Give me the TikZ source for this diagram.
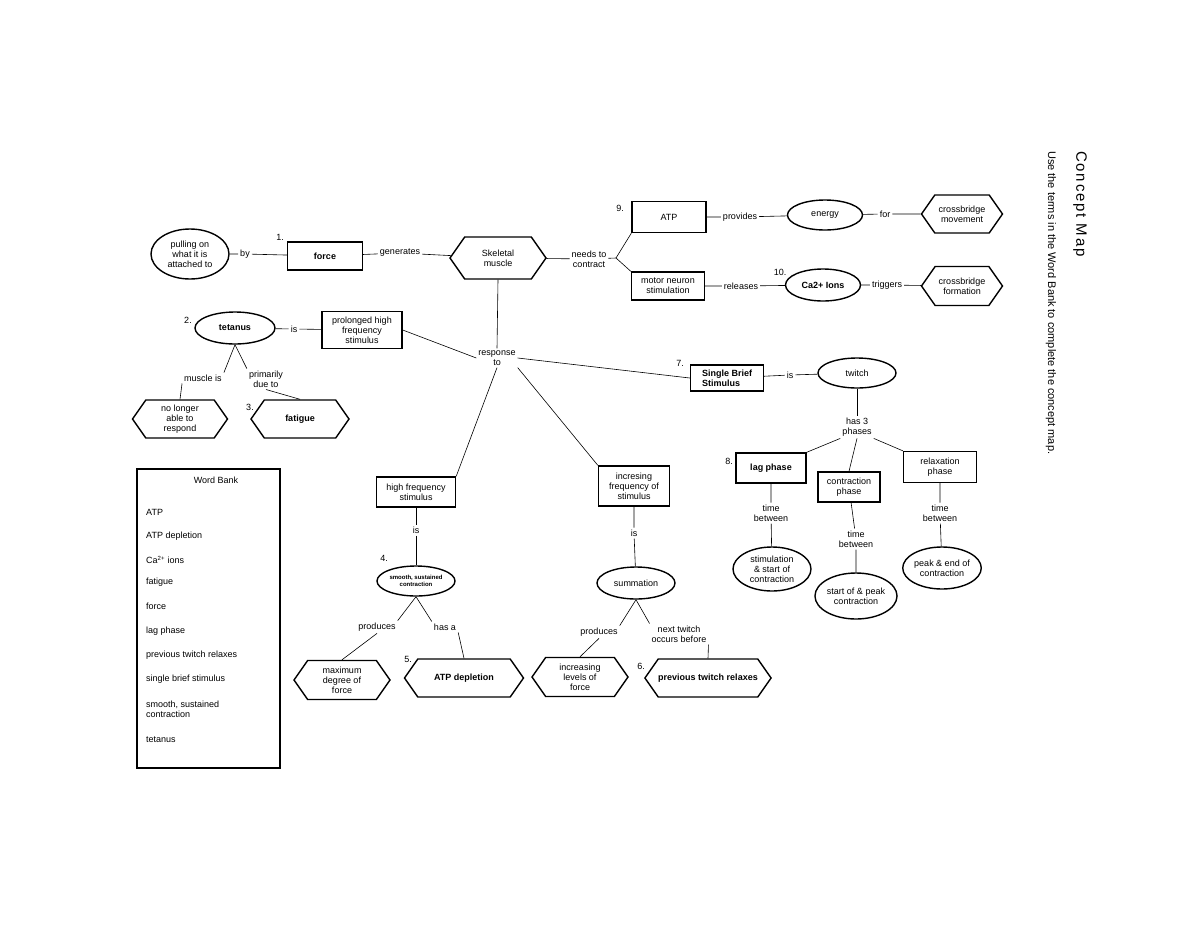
\documentclass[tikz,border=0pt]{standalone}
\usepackage{fontspec}
\setmainfont{Liberation Sans}
\usetikzlibrary{shapes.geometric,shapes.symbols}
\begin{document}
\begin{tikzpicture}[x=1pt,y=-1pt,
  every node/.style={font=\fontsize{9}{10}\selectfont,align=center,inner sep=1pt},
  box/.style={draw,line width=1.4pt,minimum width=#1,minimum height=28pt,inner sep=2pt},
  ell/.style={draw,ellipse,line width=1.4pt,minimum width=#1,minimum height=31pt,inner sep=0pt},
  hex/.style={draw,signal,signal to=west and east,signal pointer angle=110,line width=1.4pt,minimum width=#1,minimum height=38pt,inner sep=0pt},
  lab/.style={fill=white,inner sep=2pt},
  num/.style={font=\fontsize{9}{10}\selectfont},
  ln/.style={line width=0.6pt}]
\useasboundingbox (0,0) rectangle (1200,927);
% nodes
\node[ell=78pt,minimum height=50pt] (pull) at (190,254) {pulling on\\what it is\\attached to};
\node[lab] (by) at (245,254) {by};
\node[num] (n1) at (280,237) {1.};
\node[box=75pt] (force) at (325,256) {\bfseries force};
\node[lab] (gen) at (400,253) {generates};
\node[hex=96pt,minimum height=42pt] (skel) at (498,258) {Skeletal\\muscle};
\node[lab] (needs) at (589,259) {needs to\\contract};
\coordinate (br) at (616,258);
\node[num] (n9) at (620,208) {9.};
\node[box=74pt,minimum height=31pt] (atp) at (669,217) {ATP};
\node[lab] (prov) at (740,217) {provides};
\node[ell=75pt,minimum height=30pt] (energy) at (825,215) {energy};
\node[lab] (for) at (885,214) {for};
\node[hex=81pt] (cbm) at (962,214) {crossbridge\\movement};
\node[box=73pt] (motor) at (668,286) {motor neuron\\stimulation};
\node[lab] (rel) at (741,286) {releases};
\node[num] (n10) at (780,272) {10.};
\node[ell=75pt,minimum height=32pt] (ca) at (823,285) {\bfseries Ca2+ Ions};
\node[lab] (trig) at (887,285) {triggers};
\node[hex=81pt,minimum height=39pt] (cbf) at (962,286) {crossbridge\\formation};
\node[num] (n2) at (188,320) {2.};
\node[ell=80pt,minimum height=32pt] (tet) at (235,328) {\bfseries tetanus};
\node[lab] (is1) at (294,329) {is};
\node[box=80pt,minimum height=37pt] (prol) at (362,330) {prolonged high\\frequency\\stimulus};
\node[lab] (resp) at (497,358) {response\\to};
\node[num] (n7) at (680,363) {7.};
\node[box=73pt,minimum height=26pt,align=left] (sbs) at (727,378) {\bfseries Single Brief\\\bfseries Stimulus};
\node[lab] (is2) at (790,375) {is};
\node[ell=78pt,minimum height=30pt] (twitch) at (857,373) {twitch};
\node[lab] (has3) at (857,427) {has 3\\phases};
\node[lab] (mis) at (203,378) {muscle is};
\node[lab] (prim) at (266,379) {primarily\\due to};
\node[hex=95pt] (nolong) at (180,419) {no longer\\able to\\respond};
\node[num] (n3) at (250,407) {3.};
\node[hex=98pt] (fat) at (300,419) {\bfseries fatigue};
% word bank
\draw[line width=1.4pt] (137,469) rectangle (280,768);
\node at (216,480) {Word Bank};
\foreach \t/\y in {ATP/512, ATP depletion/536, {Ca\textsuperscript{2+} ions}/560, fatigue/582, force/606, lag phase/631, previous twitch relaxes/655, single brief stimulus/679, tetanus/740}
  \node[anchor=west] at (145,\y) {\t};
\node[anchor=west,align=left] at (145,709) {smooth, sustained\\contraction};
% lower middle
\node[box=79pt,minimum height=30pt] (hfs) at (416,492) {high frequency\\stimulus};
\node[box=71pt,minimum height=40pt] (inc) at (634,486) {incresing\\frequency of\\stimulus};
\node[lab] (is3) at (416,530) {is};
\node[lab] (is4) at (634,533) {is};
\node[num] (n4) at (384,558) {4.};
\node[ell=78pt,minimum height=30pt,font=\fontsize{6}{7}\selectfont\bfseries] (smooth) at (416,581) {smooth, sustained\\contraction};
\node[ell=78pt,minimum height=32pt] (summ) at (636,583) {summation};
\node[lab] (prod1) at (377,627) {produces};
\node[lab] (hasa) at (445,627) {has a};
\node[lab] (prod2) at (599,632) {produces};
\node[lab] (next) at (679,634) {next twitch\\occurs before};
\node[hex=96pt,minimum height=39pt] (max) at (342,680) {maximum\\degree of\\force};
\node[num] (n5) at (408,659) {5.};
\node[hex=119pt] (atpd) at (464,678) {\bfseries ATP depletion};
\node[hex=96pt,minimum height=39pt] (incl) at (580,677) {increasing\\levels of\\force};
\node[num] (n6) at (641,666) {6.};
\node[hex=123pt] (prev) at (708,678) {\bfseries previous twitch relaxes};
% phases
\node[num] (n8) at (729,461) {8.};
\node[box=70pt,minimum height=30pt] (lag) at (771,468) {\bfseries lag phase};
\node[box=62pt,minimum height=30pt] (con) at (849,487) {contraction\\phase};
\node[box=73pt,minimum height=31pt] (relx) at (940,467) {relaxation\\phase};
\node[lab] (tb1) at (771,513) {time\\between};
\node[lab] (tb2) at (856,539) {time\\between};
\node[lab] (tb3) at (940,513) {time\\between};
\node[ell=78pt,minimum height=44pt] (e1) at (772,569) {stimulation\\\& start of\\contraction};
\node[ell=78pt,minimum height=46pt] (e2) at (856,596) {start of \& peak\\contraction};
\node[ell=76pt,minimum height=42pt] (e3) at (942,568) {peak \& end of\\contraction};
% title
\node[rotate=-90,anchor=west,font=\fontsize{15}{16}\selectfont\addfontfeature{LetterSpace=12}] (title) at (1080,150) {Concept Map};
\node[rotate=-90,anchor=west,font=\fontsize{11}{12}\selectfont] (sub) at (1051,150) {Use the terms in the Word Bank to complete the concept map.};
% connectors
\draw[ln] (pull) -- (by) -- (force) -- (gen) -- (skel) -- (needs) -- (br);
\draw[ln] (br) -- (atp.south west) (br) -- (motor.north west);
\draw[ln] (atp) -- (prov) -- (energy) -- (for) -- (cbm);
\draw[ln] (motor) -- (rel) -- (ca) -- (trig) -- (cbf);
\draw[ln] (tet) -- (is1) -- (prol);
\draw[ln] (skel.south) -- (resp.north);
\draw[ln] (prol.east) -- (resp.west);
\draw[ln] (resp.east) -- (sbs.west);
\draw[ln] (sbs) -- (is2) -- (twitch);
\draw[ln] (twitch) -- (has3);
\draw[ln] (tet.south) -- (mis.north east) (mis.south west) -- (nolong.north);
\draw[ln] (tet.south) -- (prim.north west) (prim.south) -- (fat.north);
\draw[ln] (resp.south) -- (hfs.north east);
\draw[ln] (resp.south east) -- (inc.north west);
\draw[ln] (hfs) -- (is3) -- (smooth);
\draw[ln] (inc) -- (is4) -- (summ);
\draw[ln] (smooth.south) -- (prod1.north east) (prod1.south) -- (max.north);
\draw[ln] (smooth.south) -- (hasa.north west) (hasa.south east) -- (atpd.north);
\draw[ln] (summ.south) -- (prod2.north east) (prod2.south) -- (incl.north);
\draw[ln] (summ.south) -- (next.north west) (next.south east) -- (prev.north);
\draw[ln] (has3.south west) -- (lag.north east) (has3.south) -- (con.north) (has3.south east) -- (relx.north west);
\draw[ln] (lag) -- (tb1) -- (e1);
\draw[ln] (con) -- (tb2) -- (e2);
\draw[ln] (relx) -- (tb3) -- (e3);
\end{tikzpicture}
\end{document}
